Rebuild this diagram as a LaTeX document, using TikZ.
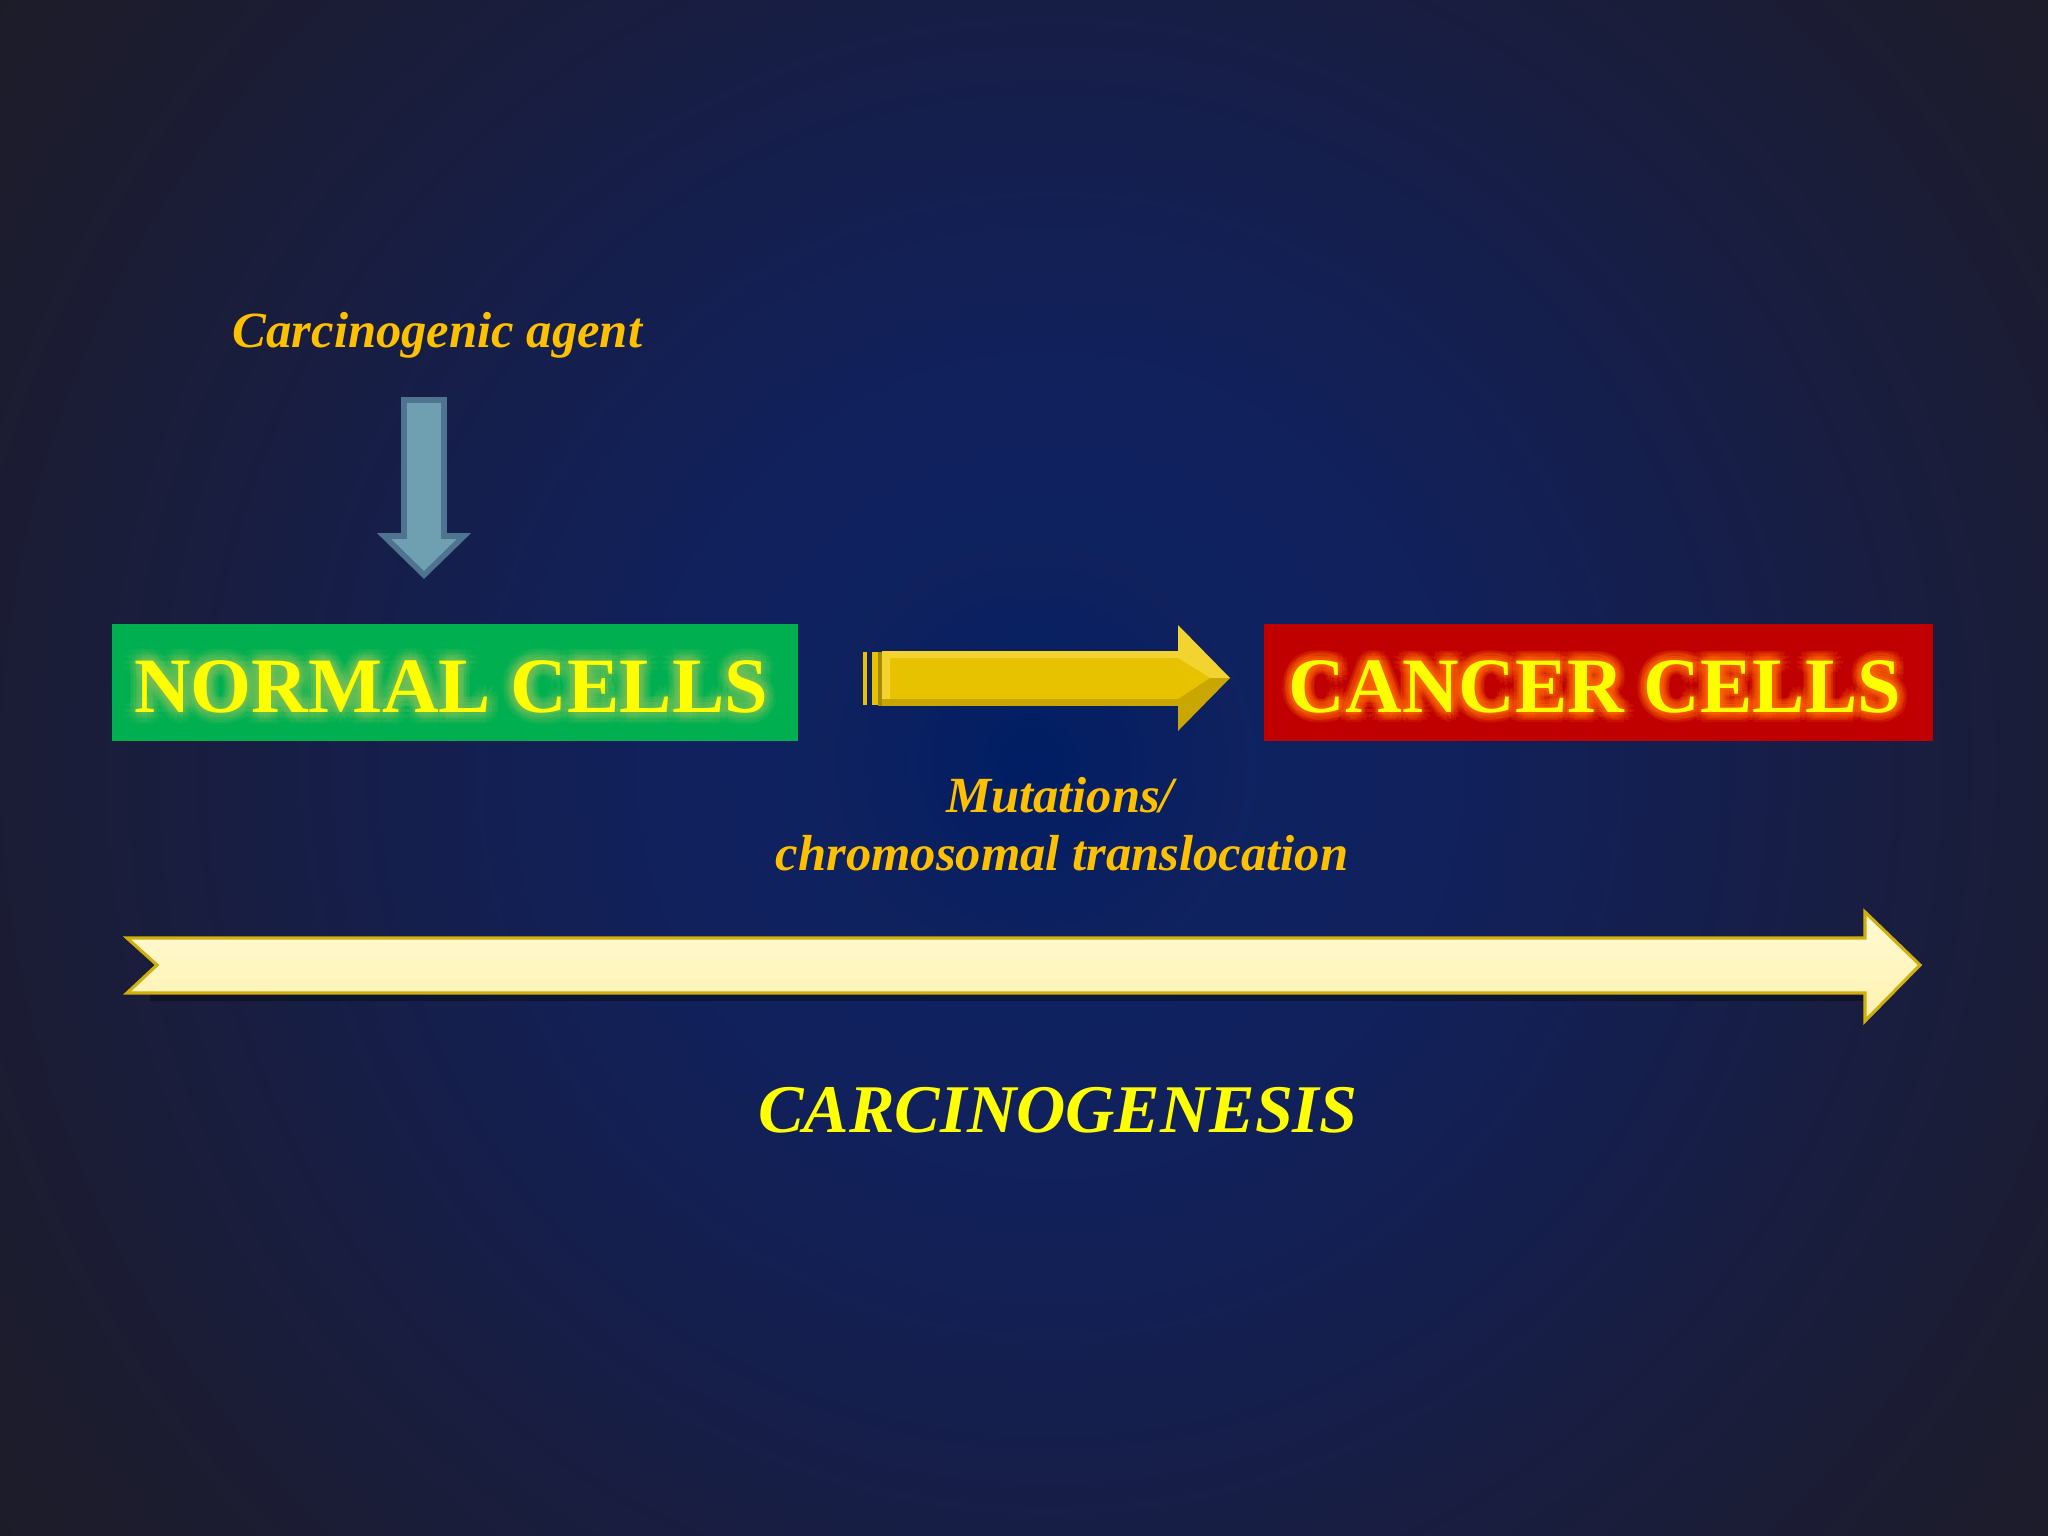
\documentclass[tikz,border=0pt]{standalone}
\usepackage{fontspec}
\setmainfont{Liberation Serif}
\usetikzlibrary{calc}
\definecolor{bgA}{HTML}{0E2364}
\definecolor{bgB}{HTML}{10215E}
\definecolor{bgC}{HTML}{141F50}
\definecolor{bgD}{HTML}{191D3E}
\definecolor{bgE}{HTML}{1C1C30}
\definecolor{bgF}{HTML}{1C1C27}
\definecolor{blobc}{HTML}{001E64}
\definecolor{cgreen}{HTML}{00B050}
\definecolor{cred}{HTML}{C00000}
\definecolor{cyel}{HTML}{FFFF00}
\definecolor{corange}{HTML}{FFC000}
\definecolor{glowgreen}{HTML}{8CC860}
\definecolor{glowred}{HTML}{FF6A00}
\definecolor{arrfill}{HTML}{6FA0B2}
\definecolor{arrline}{HTML}{4E7490}
\definecolor{creamA}{HTML}{FFFAD4}
\definecolor{creamB}{HTML}{FFF1AE}
\definecolor{creamline}{HTML}{CFAE10}
\definecolor{goldL}{HTML}{F2D330}
\definecolor{goldM}{HTML}{E6C200}
\definecolor{goldD}{HTML}{C9A600}
\definecolor{goldDD}{HTML}{A88A00}
\pgfdeclareradialshading{bgshade}{\pgfpoint{0bp}{0bp}}{color(0bp)=(bgA); color(100bp)=(bgB); color(170bp)=(bgC); color(250bp)=(bgD); color(320bp)=(bgE); color(383bp)=(bgF)}
\newcommand\bigfont{\fontsize{22.3pt}{26pt}\selectfont\bfseries}
\newcommand\labfont{\fontsize{14.4pt}{17pt}\selectfont\bfseries\itshape}
\newcommand\titfont{\fontsize{19.4pt}{23pt}\selectfont\bfseries\itshape}
\tikzset{
  cellbox/.style={minimum height=1.17cm, inner sep=0pt, outer sep=0pt},
  celltext/.style={anchor=base, inner sep=0pt, text=cyel, font=\bigfont},
  lab/.style={anchor=base, inner sep=0pt, text=corange, font=\labfont},
}
\begin{document}
\begin{tikzpicture}[x=0.01cm,y=-0.01cm]
\useasboundingbox (0,0) rectangle (2048,1536);
\begin{scope}
\clip (0,0) rectangle (2048,1536);
\fill[bgF] (0,0) rectangle (2048,1536);
\node[inner sep=0pt, outer sep=0pt] (bg) at (1050,765) {\pgfuseshading{bgshade}};
\shade[inner color=blobc, outer color=bgB] (1031,761) circle (215);
\end{scope}

% boxes
\node[cellbox, fill=cgreen, minimum width=6.86cm] (normal) at (455,682.5) {};
\node[cellbox, fill=cred, minimum width=6.69cm] (cancer) at (1598.5,682.5) {};

% glows
\foreach \ang in {0,30,...,330}{
  \foreach \rad in {3,6,9,12}{
    \node[celltext, text=glowgreen, opacity=0.08] at ($(451,712)+(\ang:\rad)$) {NORMAL CELLS};
  }
  \foreach \rad in {2,4,7,10}{
    \node[celltext, text=glowred, opacity=0.14] at ($(1595,712)+(\ang:\rad)$) {CANCER CELLS};
  }
}
\node[celltext] (normaltxt) at (451,712) {NORMAL CELLS};
\node[celltext] (cancertxt) at (1595,712) {CANCER CELLS};

% labels
\node[lab] (agent) at (437.5,347) {Carcinogenic agent};
\node[lab] (mut1) at (1060,812) {Mutations/};
\node[lab] (mut2) at (1062,870) {chromosomal translocation};
\node[anchor=base, inner sep=0pt, text=cyel, font=\titfont] (carc) at (1058,1132) {CARCINOGENESIS};

% down arrow
\path[fill=arrfill, draw=arrline, line width=1.6pt, line join=miter]
  (404,400) -- (444,400) -- (444,536) -- (464,536) -- (424,575) -- (384,536) -- (404,536) -- cycle;

% middle gold arrow
\fill[goldM] (863,652) rectangle (867,705);
\fill[goldM] (872,652) rectangle (878,705);
\fill[goldDD] (878,652) rectangle (882,706);
\fill[goldM] (882,651) rectangle (1180,706);
\fill[goldL] (882,651) rectangle (1180,658);
\fill[goldL] (882,651) -- (890,658) -- (890,699) -- (882,706) -- cycle;
\fill[goldD] (882,699) rectangle (1180,706);
\fill[goldL] (1178,625) -- (1230,678) -- (1178,678) -- cycle;
\fill[goldD] (1178,731) -- (1230,678) -- (1178,678) -- cycle;
\fill[goldM] (1178,658) -- (1210,678) -- (1178,699) -- cycle;

% big timeline arrow
\fill[black, opacity=0.35] (150,993) rectangle (1866,1001);
\path[top color=creamA, bottom color=creamB, draw=creamline, line width=0.9pt, line join=miter]
  (127,938) -- (1865,938) -- (1865,912) -- (1920,965) -- (1865,1021) -- (1865,993) -- (127,993) -- (157,965) -- cycle;
\end{tikzpicture}
\end{document}
